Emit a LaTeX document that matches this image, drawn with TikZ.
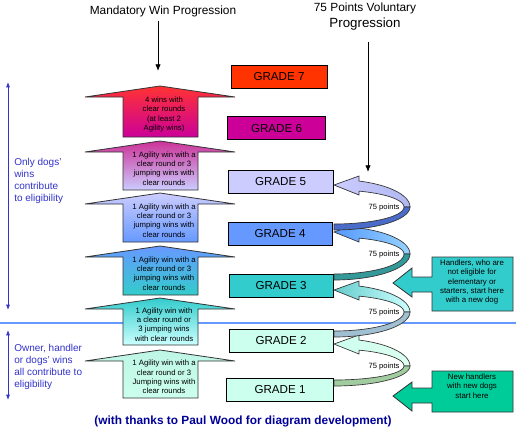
\documentclass[tikz,border=0pt]{standalone}
\usepackage{fontspec}
\setmainfont{Liberation Sans}
\usetikzlibrary{arrows.meta, positioning, math}
\definecolor{gseven}{RGB}{255,51,0}
\definecolor{gsix}{RGB}{204,0,153}
\definecolor{gfive}{RGB}{204,204,255}
\definecolor{gfour}{RGB}{102,153,255}
\definecolor{gthree}{RGB}{51,204,204}
\definecolor{gtwo}{RGB}{204,255,238}
\definecolor{upred}{RGB}{255,51,51}
\definecolor{uppink}{RGB}{204,51,153}
\definecolor{uplight}{RGB}{204,255,255}
\definecolor{upmint}{RGB}{190,245,228}
\definecolor{calltwo}{RGB}{0,204,153}
\definecolor{myblue}{RGB}{51,51,204}
\definecolor{mynavy}{RGB}{0,0,153}
\definecolor{mysky}{RGB}{102,153,255}

\begin{document}
\begin{tikzpicture}[x=0.75pt, y=-0.75pt,
  grade/.style={draw=black, line width=0.75pt, inner sep=0pt, minimum height=17.25pt,
    font=\fontsize{8.7}{10}\selectfont},
  uparrow/.style={draw=black!80, line width=0.6pt},
  wintext/.style={align=center, inner sep=0pt, font=\fontsize{5.8}{7}\selectfont},
  ribbon/.style={draw=black!80, line width=0.5pt},
  ptstext/.style={inner sep=0pt, font=\fontsize{5.7}{7}\selectfont},
  sidetext/.style={align=left, anchor=north west, inner sep=0pt, text=myblue,
    font=\fontsize{7.5}{9}\selectfont},
  calltext/.style={align=center, inner sep=0pt, font=\fontsize{5.9}{7}\selectfont},
  sidearrow/.style={draw=myblue, line width=0.6pt, {Latex[length=4pt,width=3pt]}-{Latex[length=4pt,width=3pt]}},
  titlearrow/.style={line width=0.6pt, -{Latex[length=5pt,width=4pt]}}]
\useasboundingbox[fill=white] (0,0) rectangle (516,430);

\draw[mysky, line width=2.2pt] (0,323) -- (516,323);

\node (mand) at (163,11) {\fontsize{8.9}{10.5}\selectfont Mandatory Win Progression};
\node[align=center] (vol) at (365,17) {\fontsize{8.9}{10.5}\selectfont 75 Points Voluntary\\Progression};
\coordinate (mandend) at (158,71);
\coordinate (volstart) at (368,42);
\coordinate (volend) at (368,172);
\draw[titlearrow] (mandend |- mand.south) -- (mandend);
\draw[titlearrow] (volstart) -- (volend);

\foreach \ya/\yb/\ct/\cb/\txt [count=\i] in {
  86/137/upred/gsix/{4 wins with\\clear rounds\\(at least 2\\Agility wins)},
  141/190/uppink/gfive/{1 Agility win with a\\clear round or 3\\jumping wins with\\clear rounds},
  193/242/gfive/gfour/{1 Agility win with a\\clear round or 3\\jumping wins with\\clear rounds},
  246/295/gfour/gthree/{1 Agility win with a\\clear round or 3\\jumping wins with\\clear rounds},
  298/345/gthree/uplight/{1 Agility win with\\a clear round or\\3 jumping wins\\with clear rounds},
  350/398/upmint/gtwo/{1 Agility win with a\\clear round or 3\\Jumping wins with\\clear rounds}}
{
  \draw[uparrow, top color=\ct, bottom color=\cb] (160,\ya) -- (235,\ya+11) -- (198,\ya+11)
    -- (198,\yb) -- (123,\yb) -- (123,\ya+11) -- (85,\ya+11) -- cycle;
  \node[wintext] (win\i) at (164,{(\ya+\yb)/2+3}) {\txt};
}

\node[grade, fill=gseven, minimum width=72pt] (g7) at (279,76.5) {GRADE 7};
\node[grade, fill=gsix, minimum width=73.5pt] (g6) at (276.5,128) {GRADE 6};
\node[grade, fill=gfive, minimum width=78.75pt] (g5) at (280.5,181.5) {GRADE 5};
\node[grade, fill=gfour, minimum width=78pt] (g4) at (280,233.5) {GRADE 4};
\node[grade, fill=gthree, minimum width=78pt] (g3) at (281,285.5) {GRADE 3};
\node[grade, fill=gtwo, minimum width=78pt] (g2) at (281,340.5) {GRADE 2};
\node[grade, fill=gtwo, minimum width=80.25pt] (g1) at (280,389.5) {GRADE 1};

\foreach \cy/\rd/\ca/\cb/\cd [count=\j] in {
  366/20/gtwo/{rgb,255:red,221;green,255;blue,240}/{rgb,255:red,160;green,204;blue,160},
  312/25/{rgb,255:red,102;green,204;blue,204}/uplight/{rgb,255:red,160;green,192;blue,210},
  254/26/{rgb,255:red,85;green,153;blue,255}/{rgb,255:red,150;green,210;blue,255}/{rgb,255:red,51;green,153;blue,153},
  207/23/gfive/{rgb,255:red,176;green,184;blue,240}/{rgb,255:red,74;green,107;blue,200}}
{
  \begin{scope}[shift={(334,\cy)}]
    \draw[ribbon, left color=\ca, right color=\cb] (0,-22) -- (25,-31) -- (25,-26)
      -- plot[smooth, domain=70.5:0, samples=16] ({76*cos(\x)},{-27.5*sin(\x)}) -- (70,0)
      -- plot[smooth, domain=0:69, samples=16] ({70*cos(\x)},{-17*sin(\x)}) -- (25,-12) -- cycle;
    \draw[ribbon, fill=\cd] (76,0) -- plot[smooth, domain=0:-90, samples=16] ({76*cos(\x)},{-\rd*sin(\x)})
      -- (0,\rd-6) -- plot[smooth, domain=-90:0, samples=16] ({70*cos(\x)},{-(\rd-6)*sin(\x)}) -- cycle;
    \node[ptstext] (pts\j) at (50,1) {75 points};
  \end{scope}
}

\draw[uparrow, fill=gthree] (432,257) -- (513,257) -- (513,311) -- (432,311) -- (432,292) -- (412,292)
  -- (412,297) -- (393,283) -- (412,268) -- (412,277) -- (432,277) -- cycle;
\node[calltext] (callone) at (472,282) {Handlers, who are\\not eligible for\\elementary or\\starters, start here\\with a new dog};
\draw[uparrow, fill=calltwo] (432,371) -- (513,371) -- (513,412) -- (432,412) -- (432,403) -- (412,403)
  -- (412,411) -- (393,396) -- (412,382) -- (412,388) -- (432,388) -- cycle;
\node[calltext] (calltwo) at (472,386) {New handlers\\with new dogs\\start here};

\coordinate (onlytop) at (8,82);
\coordinate (onlybot) at (8,310);
\coordinate (owntop) at (8,330);
\coordinate (ownbot) at (8,400);
\draw[sidearrow] (onlytop) -- (onlybot);
\draw[sidearrow] (owntop) -- (ownbot);
\node[sidetext] (only) at (14,158) {Only dogs'\\wins\\contribute\\to eligibility};
\node[sidetext] (owner) at (14,344) {Owner, handler\\or dogs' wins\\all contribute to\\eligibility};

\node[text=mynavy, font=\fontsize{8.9}{10.5}\selectfont\bfseries] (thanks) at (243,421)
  {(with thanks to Paul Wood for diagram development)};
\end{tikzpicture}
\end{document}
